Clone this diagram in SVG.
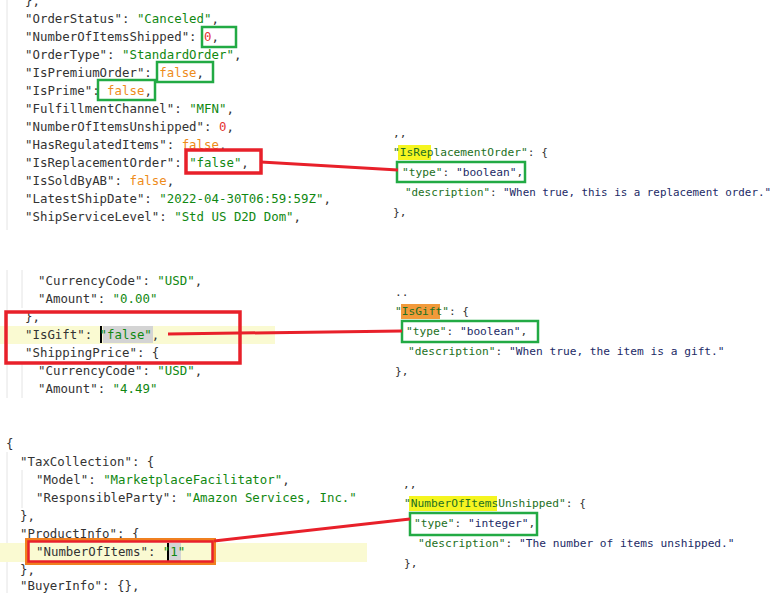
<svg xmlns="http://www.w3.org/2000/svg" width="776" height="593" viewBox="0 0 776 593">
<style>
.c{font-family:"DejaVu Sans Mono","Liberation Mono",monospace;font-size:12.4px;fill:#333}
.r{font-family:"DejaVu Sans Mono","Liberation Mono",monospace;font-size:11.2px;fill:#333}
.s{fill:#118811}.n{fill:#e53333}.b{fill:#ee8c1a}
.k{fill:#237023}.v{fill:#1c2a66}
.g{fill:none;stroke:#22aa44;stroke-width:2.5}
.rb{fill:none;stroke:#e8202a;stroke-width:3.5}
.ln{stroke:#e8202a;stroke-width:3;fill:none}
.guide{stroke:#e4e4e4;stroke-width:1}
</style>
<rect width="776" height="593" fill="#fff"/>
<g id="guides">
<line class="guide" x1="7" y1="0" x2="7" y2="230"/>
<line class="guide" x1="7" y1="270" x2="7" y2="398"/>
<line class="guide" x1="22" y1="270" x2="22" y2="308"/>
<line class="guide" x1="22" y1="362" x2="22" y2="398"/>
<line class="guide" x1="7" y1="452" x2="7" y2="593"/>
<line class="guide" x1="22" y1="470" x2="22" y2="508"/>
</g>
<g id="highlights">
<rect x="0" y="326" width="275" height="18" fill="#fafad2"/>
<rect x="0" y="543" width="367" height="19" fill="#fafad2"/>
<rect x="103" y="326" width="50" height="17" fill="#d4d4d4"/>
<rect x="169" y="543" width="12" height="18" fill="#d4d4d4"/>
<rect x="100" y="326" width="2" height="17" fill="#000"/>
<rect x="167" y="543" width="2" height="18" fill="#000"/>
<rect x="398" y="145" width="33" height="15" fill="#f5f520"/>
<rect x="401" y="304" width="39" height="15" fill="#f29a3a"/>
<rect x="409" y="496" width="88" height="15" fill="#f5f520"/>
</g>
<g id="left1" class="c">
<text x="25" y="5">},</text>
<text x="25" y="23">"OrderStatus": <tspan class="s">"Canceled"</tspan>,</text>
<text x="25" y="41">"NumberOfItemsShipped": <tspan class="n">0</tspan>,</text>
<text x="25" y="59">"OrderType": <tspan class="s">"StandardOrder"</tspan>,</text>
<text x="25" y="77">"IsPremiumOrder": <tspan class="b">false</tspan>,</text>
<text x="25" y="95">"IsPrime": <tspan class="b">false</tspan>,</text>
<text x="25" y="113">"FulfillmentChannel": <tspan class="s">"MFN"</tspan>,</text>
<text x="25" y="131">"NumberOfItemsUnshipped": <tspan class="n">0</tspan>,</text>
<text x="25" y="149">"HasRegulatedItems": <tspan class="b">false</tspan>,</text>
<text x="25" y="167">"IsReplacementOrder": <tspan class="s">"false"</tspan>,</text>
<text x="25" y="185">"IsSoldByAB": <tspan class="b">false</tspan>,</text>
<text x="25" y="203">"LatestShipDate": <tspan class="s">"2022-04-30T06:59:59Z"</tspan>,</text>
<text x="25" y="221">"ShipServiceLevel": <tspan class="s">"Std US D2D Dom"</tspan>,</text>
</g>
<g id="left2" class="c">
<text x="38" y="285">"CurrencyCode": <tspan class="s">"USD"</tspan>,</text>
<text x="38" y="303">"Amount": <tspan class="s">"0.00"</tspan></text>
<text x="25" y="321">},</text>
<text x="25" y="339">"IsGift": <tspan class="s">"false"</tspan>,</text>
<text x="25" y="357">"ShippingPrice": {</text>
<text x="38" y="375">"CurrencyCode": <tspan class="s">"USD"</tspan>,</text>
<text x="38" y="393">"Amount": <tspan class="s">"4.49"</tspan></text>
</g>
<g id="left3" class="c">
<text x="6" y="448">{</text>
<text x="20" y="466">"TaxCollection": {</text>
<text x="36" y="484">"Model": <tspan class="s">"MarketplaceFacilitator"</tspan>,</text>
<text x="36" y="502">"ResponsibleParty": <tspan class="s">"Amazon Services, Inc."</tspan></text>
<text x="20" y="520">},</text>
<text x="20" y="538">"ProductInfo": {</text>
<text x="36" y="556">"NumberOfItems": <tspan class="s">"1"</tspan></text>
<text x="20" y="574">},</text>
<text x="20" y="590">"BuyerInfo": {},</text>
</g>
<g id="right1" class="r">
<text x="393" y="137">,,</text>
<text x="393" y="156"><tspan class="k">"IsReplacementOrder"</tspan>: {</text>
<text x="402" y="176"><tspan class="k">"type"</tspan>: <tspan class="v">"boolean"</tspan>,</text>
<text x="405" y="196" textLength="366" lengthAdjust="spacingAndGlyphs"><tspan class="k">"description"</tspan>: <tspan class="v">"When true, this is a replacement order."</tspan></text>
<text x="393" y="216">},</text>
</g>
<g id="right2" class="r">
<text x="395" y="296">..</text>
<text x="395" y="315"><tspan class="k">"IsGift"</tspan>: {</text>
<text x="406" y="335"><tspan class="k">"type"</tspan>: <tspan class="v">"boolean"</tspan>,</text>
<text x="408" y="355"><tspan class="k">"description"</tspan>: <tspan class="v">"When true, the item is a gift."</tspan></text>
<text x="395" y="375">},</text>
</g>
<g id="right3" class="r">
<text x="403" y="488">,,</text>
<text x="404" y="507"><tspan class="k">"NumberOfItemsUnshipped"</tspan>: {</text>
<text x="414" y="527"><tspan class="k">"type"</tspan>: <tspan class="v">"integer"</tspan>,</text>
<text x="418" y="547"><tspan class="k">"description"</tspan>: <tspan class="v">"The number of items unshipped."</tspan></text>
<text x="404" y="567">},</text>
</g>
<g id="boxes">
<rect class="g" x="202" y="27" width="34" height="20"/>
<rect class="g" x="157" y="62" width="56" height="20"/>
<rect class="g" x="98" y="80" width="57" height="20"/>
<rect class="g" x="397" y="162" width="128" height="20"/>
<rect class="g" x="402" y="321" width="136" height="21"/>
<rect class="g" x="410" y="513" width="127" height="22"/>
<rect class="rb" x="186" y="150" width="75" height="23"/>
<rect class="rb" x="6" y="312" width="234" height="51"/>
<rect x="27" y="540" width="187" height="23" fill="none" stroke="#f08020" stroke-width="4"/>
<rect x="28.5" y="541.5" width="184" height="20" fill="none" stroke="#e8202a" stroke-width="2.5"/>
</g>
<g id="connectors">
<line class="ln" x1="261" y1="162" x2="398" y2="170"/>
<line class="ln" x1="168" y1="334" x2="402" y2="331"/>
<line class="ln" x1="214" y1="541" x2="410" y2="519"/>
</g>
</svg>
